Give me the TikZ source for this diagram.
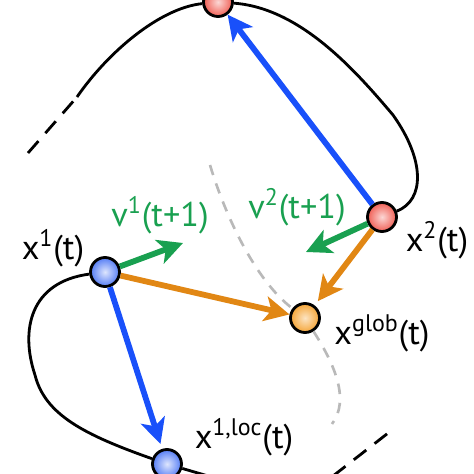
\documentclass[tikz,border=0pt]{standalone}
\usepackage{fontspec}
\setmainfont{PT Sans}
\usetikzlibrary{arrows.meta}

\definecolor{pblue}{RGB}{25,80,250}
\definecolor{pgreen}{RGB}{25,160,80}
\definecolor{porange}{RGB}{225,135,20}
\definecolor{ballred}{RGB}{240,95,85}
\definecolor{ballblue}{RGB}{85,125,245}
\definecolor{ballorange}{RGB}{245,165,55}

\tikzset{
  ball/.style={circle, draw=black, line width=1.6pt, minimum size=0.58cm, inner sep=0pt},
  redball/.style={ball, inner color=ballred!25!white, outer color=ballred},
  blueball/.style={ball, inner color=ballblue!20!white, outer color=ballblue},
  orangeball/.style={ball, inner color=ballorange!30!white, outer color=ballorange},
  curve/.style={line width=1.6pt},
  guide/.style={line width=1.5pt, gray!55, dash pattern=on 6pt off 5pt},
  move/.style={line width=3.3pt, -{Stealth[length=0.5cm, width=0.5cm, inset=0.13cm]}},
  lbl/.style={font=\fontsize{19.5}{23}\selectfont, inner sep=0pt}
}

\begin{document}
\begin{tikzpicture}[x=0.02cm, y=-0.02cm]
\useasboundingbox (0,0) rectangle (474,474);

% particles
\node[redball] (top) at (218,2) {};
\node[redball] (x2) at (382,217) {};
\node[blueball] (x1) at (105,272) {};
\node[blueball] (loc) at (167,464) {};
\node[orangeball] (glob) at (305,318) {};

% free ends
\coordinate (ctopA) at (77,97);
\coordinate (ctopB) at (28,153);
\coordinate (cbotR) at (215,478);
\coordinate (cbotA) at (333,476);
\coordinate (cbotB) at (392,430);
\coordinate (gA) at (210,165);
\coordinate (gB) at (332,424);
\coordinate (v1tip) at (183,243);
\coordinate (v2tip) at (306,252);

% grey boundary
\draw[guide] (gA) .. controls (225,215) and (255,280) .. (glob);
\draw[guide] (glob) .. controls (335,365) and (350,400) .. (gB);

% trajectories
\draw[curve, dash pattern=on 9pt off 6pt] (ctopB) -- (ctopA);
\draw[curve] (ctopA) .. controls (108,52) and (160,8) .. (top);
\draw[curve] (top) .. controls (300,8) and (355,70) .. (393,115) .. controls (425,160) and (425,200) .. (x2);
\draw[curve] (x1) .. controls (30,282) and (20,330) .. (35,375) .. controls (45,415) and (85,435) .. (loc);
\draw[curve] (loc) -- (cbotR);
\draw[curve, dash pattern=on 9pt off 6pt] (cbotA) -- (cbotB);

% velocities
\draw[move, pblue] (x2) -- (top);
\draw[move, pblue, shorten >=3pt] (x1) -- (loc);
\draw[move, pgreen] (x1) -- (v1tip);
\draw[move, pgreen] (x2) -- (v2tip);
\draw[move, porange] (x1) -- (glob);
\draw[move, porange, shorten >=3pt] (x2) -- (glob);

% labels
\node[lbl] (lx1) at (53,248) {x\textsuperscript{1}(t)};
\node[lbl, pgreen] (lv1) at (160,215) {v\textsuperscript{1}(t+1)};
\node[lbl, pgreen] (lv2) at (297,207) {v\textsuperscript{2}(t+1)};
\node[lbl] (lx2) at (437,240) {x\textsuperscript{2}(t)};
\node[lbl] (lglob) at (382,333) {x\textsuperscript{glob}(t)};
\node[lbl] (lloc) at (244,437) {x\textsuperscript{1,loc}(t)};
\end{tikzpicture}
\end{document}
